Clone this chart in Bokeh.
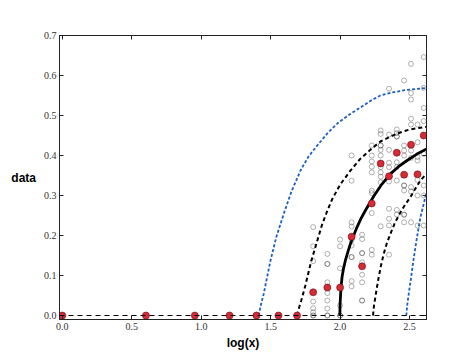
import numpy as np
from bokeh.plotting import figure
from bokeh.models import Range1d, LinearAxis, Span, FixedTicker, CustomLabelingPolicy
from bokeh.embed import file_html
from bokeh.resources import INLINE

# ---- data ----
x_values = [n * n for n in range(1, 21)]   # 1, 4, 9, ..., 400
mean_values = [0, 0, 0, 0, 0, 0, 0, 0.058, 0.07, 0.07, 0.197, 0.123, 0.28, 0.38,
               0.348, 0.407, 0.352, 0.427, 0.353, 0.45]

sample_values = {
    64: [0.221, 0.173, 0.136, 0.035, 0.018, 0.008, 0.0, 0.0],
    81: [0.154, 0.129, 0.129, 0.083, 0.056, 0.0375, 0.0175, 0.0, 0.0],
    100: [0.19, 0.173, 0.118, 0.025, 0.0, 0.0],
    121: [0.40, 0.337, 0.233, 0.2225, 0.189, 0.175, 0.146, 0.146, 0.086, 0.073],
    144: [0.202, 0.191, 0.156, 0.156, 0.133, 0.102, 0.083, 0.0375, 0.0375],
    169: [0.425, 0.40, 0.385, 0.372, 0.358, 0.312, 0.306, 0.256, 0.164, 0.152],
    196: [0.4625, 0.454, 0.425, 0.425, 0.414, 0.40, 0.371, 0.358, 0.347, 0.333, 0.223],
    225: [0.567, 0.4525, 0.414, 0.382, 0.371, 0.335, 0.267, 0.242, 0.225, 0.152],
    256: [0.465, 0.456, 0.4475, 0.4475, 0.383, 0.371, 0.3375, 0.264, 0.2525],
    289: [0.5875, 0.425, 0.4125, 0.40, 0.325, 0.325, 0.3125, 0.252, 0.252, 0.233],
    324: [0.629, 0.556, 0.54, 0.492, 0.4775, 0.4125, 0.394, 0.321, 0.31, 0.233],
    361: [0.4775, 0.433, 0.396, 0.3875, 0.339, 0.30, 0.225],
    400: [0.646, 0.569, 0.519, 0.486, 0.404, 0.325, 0.30, 0.225],
}

# curves (log x, y)
blue_left_x = [1.414, 1.43, 1.45, 1.47, 1.499, 1.54, 1.594, 1.65, 1.715, 1.77, 1.835, 1.91, 1.99, 2.07, 2.146, 2.22, 2.29, 2.38, 2.482, 2.626]
blue_left_y = [0.0, 0.027, 0.054, 0.088, 0.1375, 0.195, 0.254, 0.31, 0.3625, 0.396, 0.425, 0.456, 0.483, 0.503, 0.52, 0.537, 0.55, 0.558, 0.564, 0.569]

black_outer_x = [1.69, 1.705, 1.72, 1.75, 1.79, 1.822, 1.87, 1.906, 1.942, 2.0, 2.074, 2.146, 2.23, 2.29, 2.41, 2.5, 2.626]
black_outer_y = [0.0, 0.02, 0.037, 0.075, 0.133, 0.171, 0.227, 0.26, 0.29, 0.327, 0.362, 0.392, 0.418, 0.435, 0.455, 0.465, 0.472]

solid_x = [1.998, 2.0, 2.004, 2.008, 2.014, 2.025, 2.038, 2.055, 2.074, 2.1, 2.122, 2.15, 2.182, 2.242, 2.3, 2.362, 2.42, 2.482, 2.55, 2.626]
solid_y = [0.0, 0.03, 0.055, 0.075, 0.096, 0.118, 0.1375, 0.158, 0.179, 0.202, 0.221, 0.242, 0.2625, 0.298, 0.328, 0.354, 0.372, 0.3875, 0.403, 0.417]

black_inner_x = [2.237, 2.241, 2.245, 2.254, 2.265, 2.278, 2.295, 2.314, 2.336, 2.362, 2.395, 2.43, 2.466, 2.506, 2.54, 2.578, 2.63]
black_inner_y = [0.0, 0.015, 0.027, 0.046, 0.07, 0.096, 0.126, 0.154, 0.18, 0.204, 0.232, 0.255, 0.276, 0.296, 0.316, 0.3375, 0.358]

blue_right_x = [2.477, 2.48, 2.484, 2.494, 2.506, 2.518, 2.53, 2.542, 2.554, 2.566, 2.58, 2.597, 2.613, 2.63]
blue_right_y = [0.0, 0.015, 0.028, 0.054, 0.083, 0.1125, 0.143, 0.17, 0.196, 0.222, 0.248, 0.272, 0.295, 0.317]

x_ticks = [0.0, 0.5, 1.0, 1.5, 2.0, 2.5]
y_ticks = [0.0, 0.1, 0.2, 0.3, 0.4, 0.5, 0.6, 0.7]

# ---- figure ----
p = figure(width=474, height=355, output_backend="svg", toolbar_location=None,
           x_range=Range1d(-0.02, 2.622), y_range=Range1d(-0.01, 0.7),
           min_border_left=59, min_border_right=48, min_border_top=35, min_border_bottom=36)
p.background_fill_color = "white"
p.border_fill_color = "white"
p.outline_line_color = "#222222"
p.outline_line_width = 1
p.xgrid.visible = False
p.ygrid.visible = False

tick_font = "Liberation Serif"

def style_axis(ax, ticks):
    ax.ticker = FixedTicker(ticks=ticks)
    ax.major_tick_in = 4
    ax.major_tick_out = 0
    ax.minor_tick_line_color = None
    ax.axis_line_color = "#222222"
    ax.major_tick_line_color = "#222222"
    ax.major_label_text_font = tick_font
    ax.major_label_text_font_size = "10px"
    ax.major_label_text_color = "#333333"
    ax.major_label_standoff = 3

style_axis(p.xaxis[0], x_ticks)
style_axis(p.yaxis[0], y_ticks)
p.xaxis[0].major_label_overrides = {t: f"{t:.1f}" for t in x_ticks}
p.yaxis[0].major_label_overrides = {t: f"{t:.1f}" for t in y_ticks}
p.xaxis[0].axis_label = "log(x)"
p.yaxis[0].axis_label = "data"
for ax in (p.xaxis[0], p.yaxis[0]):
    ax.axis_label_text_font = "Liberation Sans"
    ax.axis_label_text_font_style = "bold"
    ax.axis_label_text_font_size = "12px"
    ax.axis_label_text_color = "black"
p.yaxis[0].axis_label_orientation = "horizontal"
p.yaxis[0].axis_label_standoff = 5
p.xaxis[0].axis_label_standoff = 3

# mirrored tick marks (no labels) on top and right
no_labels = CustomLabelingPolicy(code="""
    for (const i of indices) { indices.unset(i) }
    return indices
""")
top_ax = LinearAxis()
right_ax = LinearAxis()
style_axis(top_ax, x_ticks)
style_axis(right_ax, y_ticks)
top_ax.major_label_policy = no_labels
right_ax.major_label_policy = no_labels
p.add_layout(top_ax, "above")
p.add_layout(right_ax, "right")

# gray samples
gx, gy = [], []
for xv, ys in sample_values.items():
    for yv in ys:
        gx.append(np.log10(xv))
        gy.append(yv)
p.scatter(gx, gy, size=5, marker="circle", fill_color=None,
          line_color="#444444", line_alpha=0.42, line_width=1)

# zero line
p.add_layout(Span(location=0, dimension="width", line_color="black",
                  line_width=1, line_dash="5 4"))

blue = "#1c5fc4"
p.line(blue_left_x, blue_left_y, line_color=blue, line_width=1.8, line_dash="3 2")
p.line(blue_right_x, blue_right_y, line_color=blue, line_width=1.8, line_dash="3 2")
p.line(black_outer_x, black_outer_y, line_color="black", line_width=2, line_dash="4 3")
p.line(black_inner_x, black_inner_y, line_color="black", line_width=2, line_dash="4 3")
p.line(solid_x, solid_y, line_color="black", line_width=2.8)

# red means
p.scatter(np.log10(x_values), mean_values, size=7, marker="circle",
          fill_color="#d62a35", line_color="#6b0a10", line_width=0.6)

open("out.html", "w").write(file_html(p, INLINE))
